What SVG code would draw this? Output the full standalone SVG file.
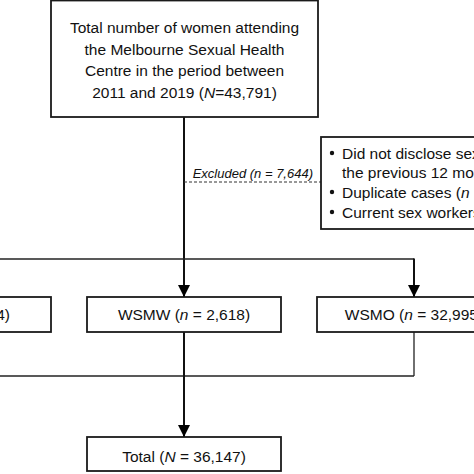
<svg xmlns="http://www.w3.org/2000/svg" width="474" height="474" viewBox="0 0 474 474">
<defs>
<marker id="ah" markerWidth="12" markerHeight="12" refX="12" refY="6" orient="auto" markerUnits="userSpaceOnUse" viewBox="0 0 12 12">
<path d="M0,0 L12,6 L0,12 Z" fill="#000"/>
</marker>
</defs>
<style>
.box{fill:#fff;stroke:#1a1a1a;stroke-width:1.8}
.t{font-family:"Liberation Sans",Arial,sans-serif;font-size:15.5px;fill:#111}
.c{text-anchor:middle}
.ex{font-size:13px;font-style:italic;text-anchor:end}
.ln{fill:none;stroke:#111;stroke-width:2}
.thin{fill:none;stroke:#222;stroke-width:1.3}
.dash{fill:none;stroke:#333;stroke-width:1;stroke-dasharray:3,2}
</style>
<rect width="474" height="474" fill="#fff"/>
<g id="connectors">
<line class="ln" x1="184" y1="117" x2="184" y2="297" marker-end="url(#ah)"/>
<line class="dash" x1="184" y1="182" x2="321" y2="182"/>
<polyline class="thin" points="0,259 414,259"/>
<line class="ln" x1="414" y1="258.5" x2="414" y2="297" marker-end="url(#ah)"/>
<line class="thin" x1="414" y1="332" x2="414" y2="376"/>
<line class="thin" x1="0" y1="376" x2="414" y2="376"/>
<line class="ln" x1="184" y1="332" x2="184" y2="437" marker-end="url(#ah)"/>
<text class="t ex" x="313" y="177.5">Excluded (n = 7,644)</text>
</g>
<g id="top">
<rect class="box" x="51" y="0.5" width="267" height="116.5"/>
<text class="t c" x="184.5" y="32.5">Total number of women attending</text>
<text class="t c" x="184.5" y="54.5">the Melbourne Sexual Health</text>
<text class="t c" x="184.5" y="76">Centre in the period between</text>
<text class="t c" x="184.5" y="98">2011 and 2019 (<tspan font-style="italic">N</tspan>=43,791)</text>
</g>
<g id="excluded">
<rect class="box" x="321" y="137" width="170" height="92"/>
<circle cx="332" cy="153" r="2.2" fill="#111"/>
<circle cx="332" cy="192" r="2.2" fill="#111"/>
<circle cx="332" cy="212" r="2.2" fill="#111"/>
<text class="t" x="342" y="158.5">Did not disclose sexual</text>
<text class="t" x="342" y="178">the previous 12 months</text>
<text class="t" x="342" y="197.5">Duplicate cases (<tspan font-style="italic">n</tspan></text>
<text class="t" x="342" y="217.5">Current sex workers</text>
</g>
<g id="wswo">
<rect class="box" x="-143" y="297" width="194" height="35"/>
<text class="t" x="10" y="320" text-anchor="end">WSWO (<tspan font-style="italic">n</tspan> = 534)</text>
</g>
<g id="wsmw">
<rect class="box" x="87" y="297" width="194" height="35"/>
<text class="t c" x="184" y="320">WSMW (<tspan font-style="italic">n</tspan> = 2,618)</text>
</g>
<g id="wsmo">
<rect class="box" x="317" y="297" width="194" height="35"/>
<text class="t c" x="414" y="320">WSMO (<tspan font-style="italic">n</tspan> = 32,995)</text>
</g>
<g id="total">
<rect class="box" x="87" y="437" width="194" height="34"/>
<text class="t c" x="184" y="461.5">Total (<tspan font-style="italic">N</tspan> = 36,147)</text>
</g>
</svg>
